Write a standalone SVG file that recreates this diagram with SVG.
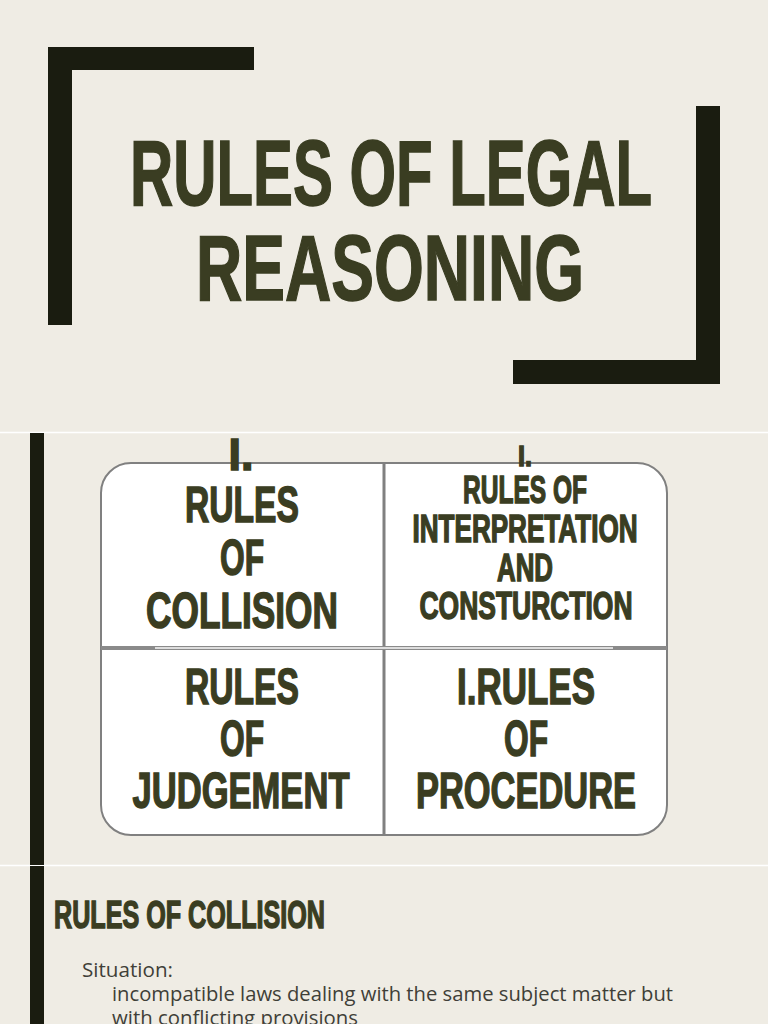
<svg xmlns="http://www.w3.org/2000/svg" width="768" height="1024" viewBox="0 0 768 1024">
<style>
.h{font-family:"Liberation Sans",Arial,sans-serif;font-weight:bold;fill:#3a3d22;stroke:#3a3d22;stroke-width:1.5;text-anchor:middle}
.b{font-family:"Open Sans","Liberation Sans",sans-serif;fill:#3f3f38}
.bar{fill:#1a1c10}
</style>
<rect width="768" height="1024" fill="#efece4"/>
<g id="slide1">
<rect class="bar" x="48" y="47" width="206" height="23"/>
<rect class="bar" x="48" y="47" width="24" height="278"/>
<rect class="bar" x="696" y="106" width="24" height="278"/>
<rect class="bar" x="513" y="360" width="207" height="24"/>
<text class="h" x="391" y="205" font-size="92" stroke-width="3" textLength="522" lengthAdjust="spacingAndGlyphs">RULES OF LEGAL</text>
<text class="h" x="390" y="300" font-size="92" stroke-width="3" textLength="388" lengthAdjust="spacingAndGlyphs">REASONING</text>
</g>
<line x1="0" y1="432.5" x2="768" y2="432.5" stroke="#ffffff" stroke-width="1.5"/>
<line x1="0" y1="865.5" x2="768" y2="865.5" stroke="#ffffff" stroke-width="1.5"/>
<rect class="bar" x="30" y="433" width="14" height="432"/>
<rect class="bar" x="30" y="866" width="14" height="158"/>
<g id="table">
<rect x="101" y="463" width="566" height="372" rx="30" fill="#ffffff" stroke="#808080" stroke-width="2"/>
<line x1="384" y1="463" x2="384" y2="835" stroke="#808080" stroke-width="3"/>
<line x1="101" y1="648" x2="667" y2="648" stroke="#8a8a8a" stroke-width="4"/>
<line x1="155" y1="648" x2="613" y2="648" stroke="#dddddd" stroke-width="2"/>
</g>
<g id="cell1">
<text class="h" x="241" y="470" font-size="44" textLength="25" lengthAdjust="spacingAndGlyphs">I.</text>
<text class="h" x="242" y="522" font-size="50" textLength="114" lengthAdjust="spacingAndGlyphs">RULES</text>
<text class="h" x="242" y="575" font-size="50" textLength="44" lengthAdjust="spacingAndGlyphs">OF</text>
<text class="h" x="242" y="628" font-size="50" textLength="192" lengthAdjust="spacingAndGlyphs">COLLISION</text>
</g>
<g id="cell2">
<text class="h" x="525" y="466" font-size="30" textLength="14" lengthAdjust="spacingAndGlyphs">I.</text>
<text class="h" x="525" y="503" font-size="38" textLength="124" lengthAdjust="spacingAndGlyphs">RULES OF</text>
<text class="h" x="525" y="542" font-size="38" textLength="225" lengthAdjust="spacingAndGlyphs">INTERPRETATION</text>
<text class="h" x="525" y="581" font-size="38" textLength="56" lengthAdjust="spacingAndGlyphs">AND</text>
<text class="h" x="526" y="619" font-size="38" textLength="213" lengthAdjust="spacingAndGlyphs">CONSTURCTION</text>
</g>
<g id="cell3">
<text class="h" x="242" y="704" font-size="50" textLength="114" lengthAdjust="spacingAndGlyphs">RULES</text>
<text class="h" x="242" y="756" font-size="50" textLength="44" lengthAdjust="spacingAndGlyphs">OF</text>
<text class="h" x="241" y="808" font-size="50" textLength="217" lengthAdjust="spacingAndGlyphs">JUDGEMENT</text>
</g>
<g id="cell4">
<text class="h" x="526" y="704" font-size="50" textLength="138" lengthAdjust="spacingAndGlyphs">I.RULES</text>
<text class="h" x="526" y="756" font-size="50" textLength="44" lengthAdjust="spacingAndGlyphs">OF</text>
<text class="h" x="526" y="808" font-size="50" textLength="220" lengthAdjust="spacingAndGlyphs">PROCEDURE</text>
</g>
<g id="slide3">
<text class="h" x="54" y="928" font-size="38" style="text-anchor:start" textLength="271" lengthAdjust="spacingAndGlyphs">RULES OF COLLISION</text>
<text class="b" x="82" y="977" font-size="20" textLength="91" lengthAdjust="spacingAndGlyphs">Situation:</text>
<text class="b" x="112" y="1001" font-size="20" textLength="561" lengthAdjust="spacingAndGlyphs">incompatible laws dealing with the same subject matter but</text>
<text class="b" x="112" y="1025" font-size="20" textLength="246" lengthAdjust="spacingAndGlyphs">with conflicting provisions</text>
</g>
</svg>
